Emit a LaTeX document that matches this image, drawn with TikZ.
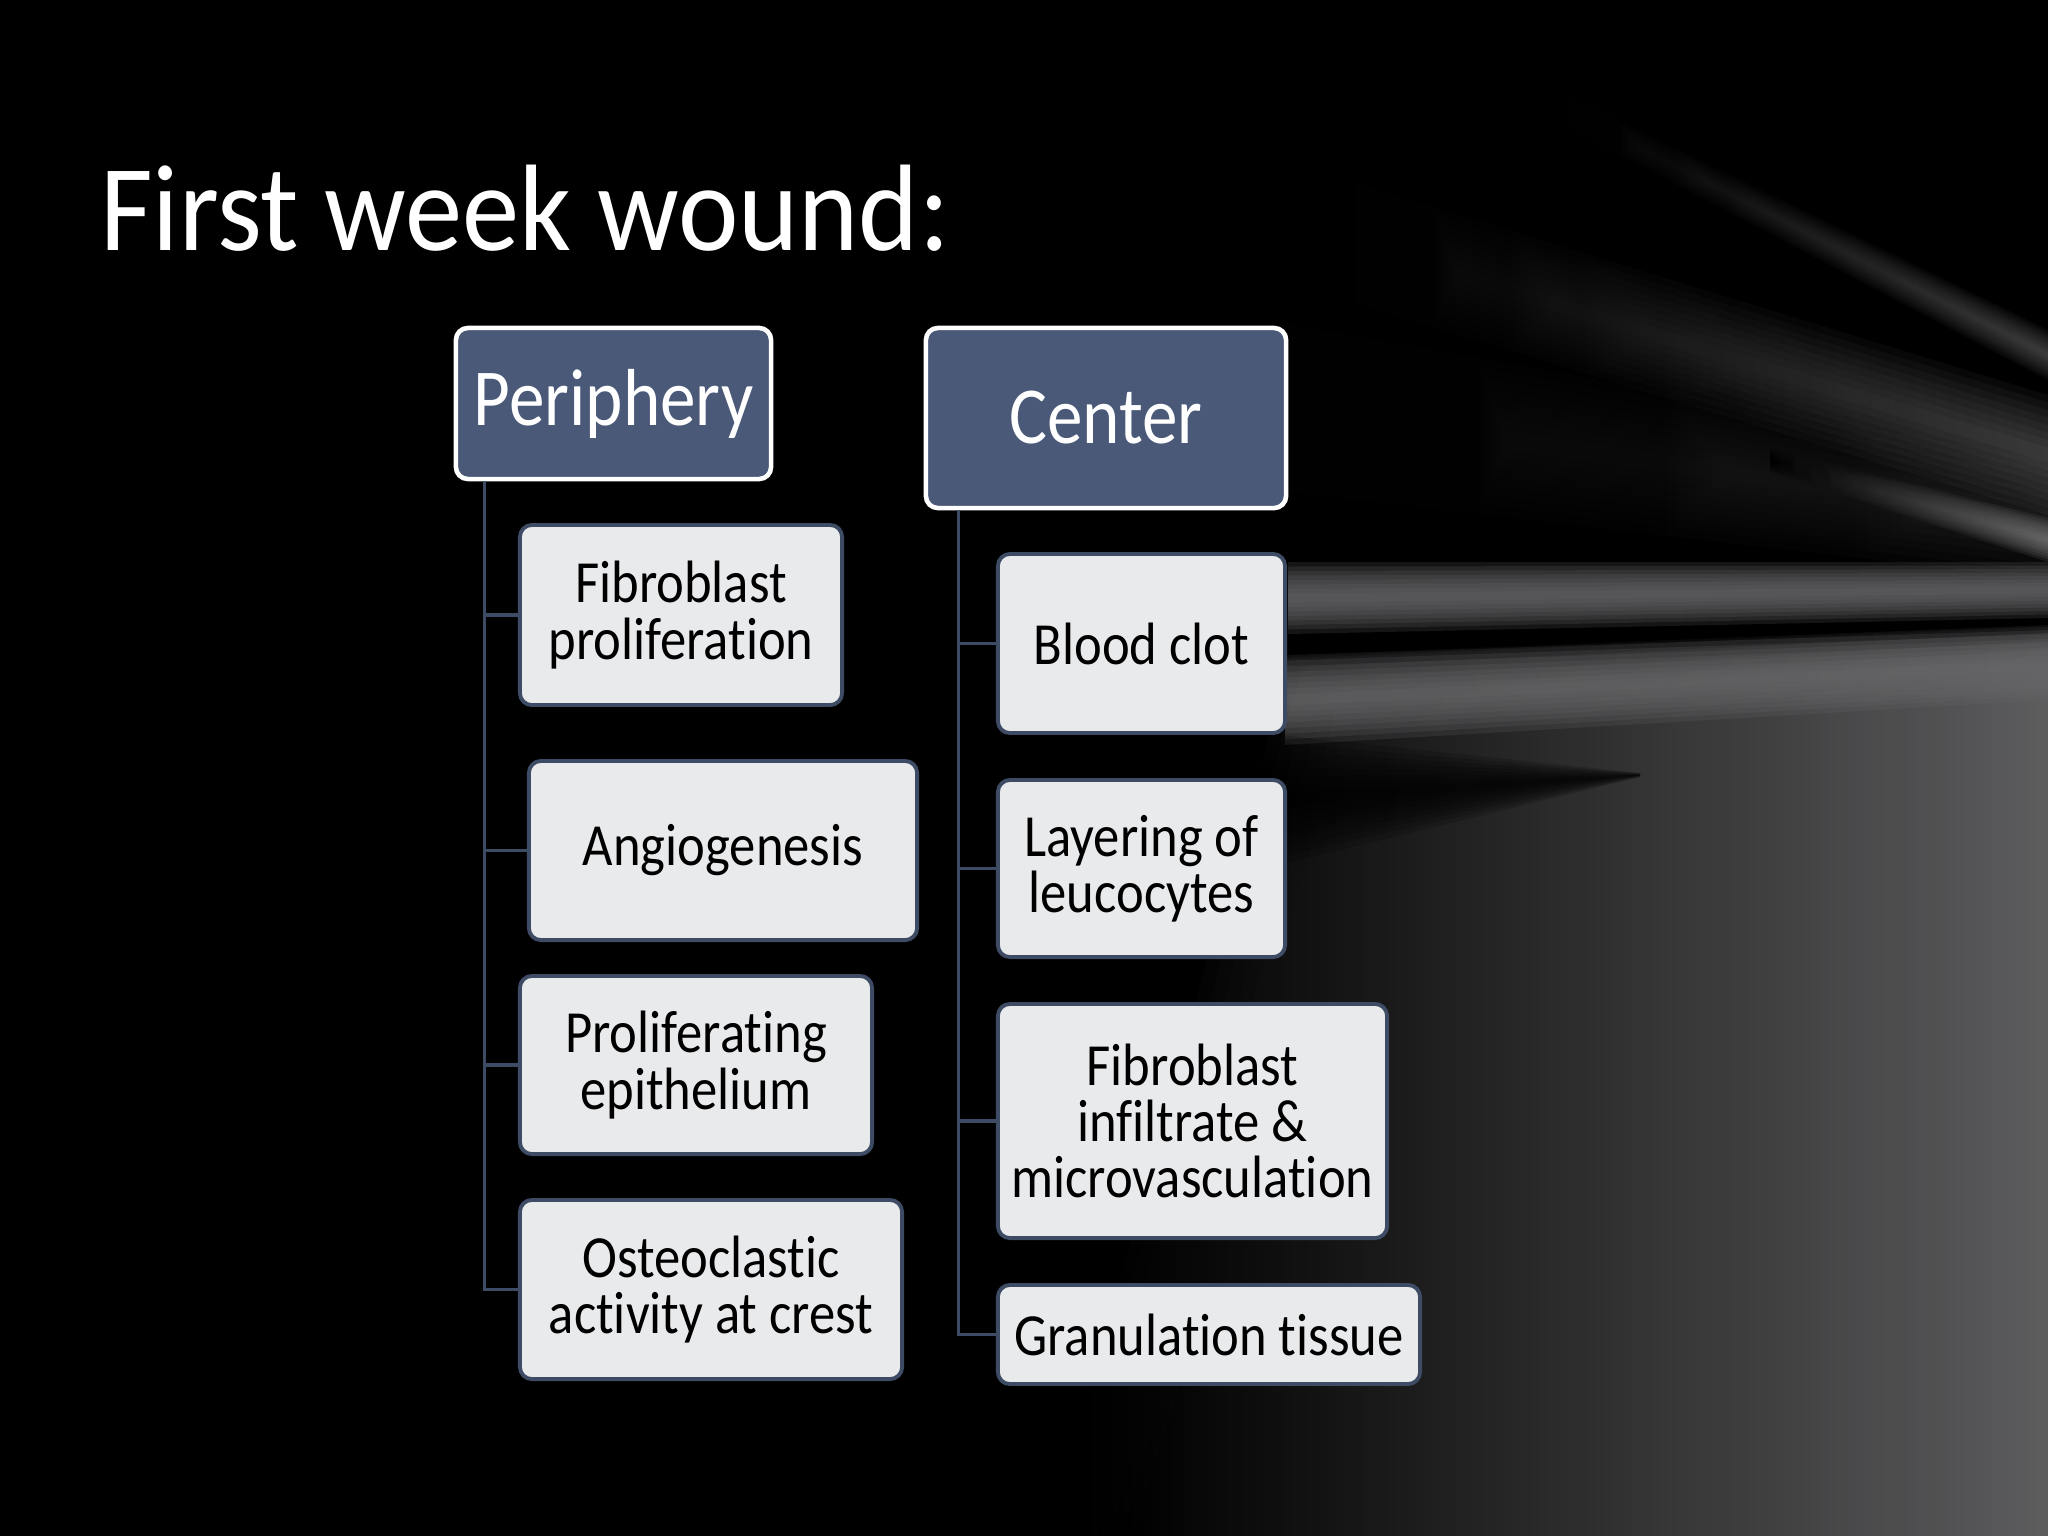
\documentclass[tikz,border=0pt]{standalone}
\usepackage{fontspec}
\setmainfont{Carlito}[FakeStretch=0.88, Ligatures=NoCommon]
\newfontfamily\titlefont{Carlito}[FakeStretch=0.93, Ligatures=NoCommon]
\usetikzlibrary{calc}

\definecolor{slate}{RGB}{74,89,120}
\definecolor{slateline}{RGB}{62,75,100}
\definecolor{boxgray}{RGB}{233,234,236}
\definecolor{floorgray}{RGB}{106,106,108}

\newcommand{\itemfont}{\fontsize{17}{16}\selectfont\lineskiplimit-6pt\relax}

% soft band: [style]{x1}{y1}{x2}{y2}{half width 1}{half width 2}{opacity}
\newcommand{\glow}[8][streak]{%
  \foreach \k in {1,...,8}
    \fill[#1, opacity=#8] (#2,{#3-#6*\k/8}) -- (#4,{#5-#7*\k/8})
        -- (#4,{#5+#7*\k/8}) -- (#2,{#3+#6*\k/8}) -- cycle;
}

\tikzset{
  headbox/.style={draw=white, line width=1.3pt, fill=slate, rounded corners=0.12cm,
    text=white, align=center, font=\fontsize{23}{27}\selectfont},
  itembox/.style={draw=slateline, line width=1.1pt, fill=boxgray, rounded corners=0.12cm,
    text=black, align=center, font=\itemfont},
  link/.style={draw=slateline, line width=1pt},
  streak/.style={left color=black, right color=white},
}

\begin{document}
\begin{tikzpicture}[x=0.01cm, y=-0.01cm]
        % --- 1. Background ---
        \fill[black] (0,0) rectangle (2048,1536);
        \useasboundingbox (0,0) rectangle (2048,1536);

        % lower grey floor, blurred edge
        \foreach \k in {0,...,7}
            \shade[left color=black, middle color=floorgray, right color=floorgray, opacity=0.24]
                ({1050+12*\k},1536) -- ({1290+12*\k},{655+12*\k}) -- (2048,{625+8*\k}) -- (2048,1536) -- cycle;

        % bands and dark gaps near the vanishing point
        \glow[fill=floorgray]{1285}{700}{2048}{665}{45}{35}{0.2}
        \glow[fill=black]{1280}{645}{2048}{622}{14}{5}{0.2}
        \glow[fill=black]{1250}{802}{1640}{775}{70}{2}{0.165}
        \glow[fill=floorgray]{1288}{598}{2048}{590}{36}{28}{0.2}

        % soft light streaks above
        \glow{1100}{380}{2048}{520}{90}{60}{0.019}
        \glow{1280}{220}{2048}{455}{60}{60}{0.038}
        \glow{1515}{85}{2048}{355}{15}{25}{0.038}
        \glow{1770}{460}{2048}{540}{12}{22}{0.077}

        % --- 2. Title ---
        \node[text=white, anchor=base west, font=\titlefont\fontsize{35}{40}\selectfont]
            (title) at (88,250) {First week wound:};

        % --- 3. Periphery column ---
        \node[headbox, minimum width=3.15cm, minimum height=1.51cm] (periph) at (613.5,403.5) {Periphery};

        \node[itembox, minimum width=3.22cm, minimum height=1.80cm] (fibprol) at (681,615) {Fibroblast\\proliferation};
        \node[itembox, minimum width=3.88cm, minimum height=1.79cm] (angio) at (723,850.5) {Angiogenesis};
        \node[itembox, minimum width=3.52cm, minimum height=1.78cm] (prolepi) at (696,1065) {Proliferating\\epithelium};
        \node[itembox, minimum width=3.82cm, minimum height=1.79cm] (osteo) at (711,1289.5) {Osteoclastic\\activity at crest};

        \coordinate (ptrunk) at ($(periph.south west)+(31,0)$);
        \foreach \n in {fibprol,angio,prolepi,osteo}
            \draw[link] (ptrunk) |- (\n.west);

        % --- 4. Center column ---
        \node[headbox, minimum width=3.60cm, minimum height=1.80cm] (center) at (1106,418) {Center};

        \node[itembox, minimum width=2.87cm, minimum height=1.79cm] (clot) at (1141.5,643.5) {Blood clot};
        \node[itembox, minimum width=2.87cm, minimum height=1.77cm] (leuco) at (1141.5,868.5) {Layering of\\leucocytes};
        \node[itembox, minimum width=3.89cm, minimum height=2.34cm] (fibinf) at (1192.5,1121) {Fibroblast\\infiltrate \&\\microvasculation};
        \node[itembox, minimum width=4.22cm, minimum height=0.99cm] (gran) at (1209,1334.5) {Granulation tissue};

        \coordinate (ctrunk) at ($(center.south west)+(35,0)$);
        \foreach \n in {clot,leuco,fibinf,gran}
            \draw[link] (ctrunk) |- (\n.west);
\end{tikzpicture}
\end{document}
